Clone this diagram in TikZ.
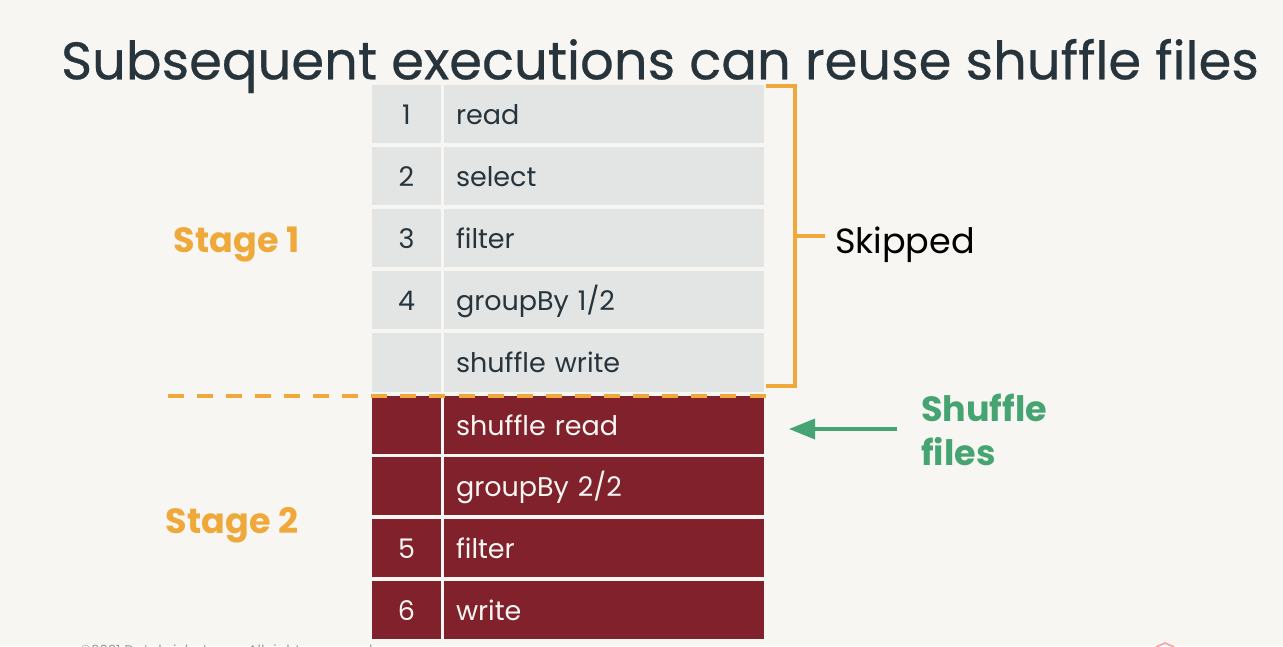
\documentclass[tikz,border=0pt]{standalone}
\usepackage{fontspec}
\setmainfont{Poppins}
\newfontfamily\titlefont[FakeBold=0.5]{Poppins}
\usetikzlibrary{arrows.meta}
\definecolor{bgc}{HTML}{F7F6F2}
\definecolor{cellgray}{HTML}{E3E4E4}
\definecolor{cellred}{HTML}{80212C}
\definecolor{ink}{HTML}{27343C}
\definecolor{amber}{HTML}{EFA93B}
\definecolor{teal}{HTML}{46A472}
\tikzset{
  x=1pt,y=-1pt,
  cell/.style={inner sep=0pt,outer sep=0pt,minimum height=#1,anchor=north west,text height=23pt,text depth=3pt,font=\fontsize{27}{27}\selectfont},
  graynum/.style={cell=58pt,minimum width=69pt,fill=cellgray,text=ink},
  graytxt/.style={cell=58pt,fill=cellgray,text=ink,align=left,text width=296pt,minimum width=320pt},
  rednum/.style={cell=58pt,minimum width=69pt,fill=cellred,text=bgc},
  redtxt/.style={cell=58pt,fill=cellred,text=bgc,align=left,text width=296pt,minimum width=320pt},
  stagelabel/.style={text=amber,font=\fontsize{35}{35}\selectfont\bfseries,inner sep=0pt},
  bracketline/.style={draw=amber,line width=3.2pt},
}
\begin{document}
\begin{tikzpicture}
\useasboundingbox (0,0) rectangle (1283,646);
\fill[bgc] (0,0) rectangle (1283,646);
\node[text=ink,font=\fontsize{52.8}{53}\selectfont\titlefont,inner sep=0pt] (title) at (660,66) {Subsequent executions can reuse shuffle files};
\foreach \n/\y/\h/\a/\b in {g1/85/58/1/read,g2/147/58/2/select,g3/209/58/3/filter,g4/271/58/4/{groupBy 1/2},g5/333/59/{}/{shuffle write}}{
  \node[graynum,minimum height=\h pt] (\n a) at (372,\y) {\a};
  \node[graytxt,minimum height=\h pt] (\n b) at (444,\y) {\b};
}
\foreach \n/\y/\a/\b in {r1/396/{}/{shuffle read},r2/457/{}/{groupBy 2/2},r3/519/5/filter,r4/581/6/write}{
  \node[rednum] (\n a) at (372,\y) {\a};
  \node[redtxt] (\n b) at (444,\y) {\b};
}
\node[stagelabel] (s1) at (236.5,245) {Stage 1};
\node[stagelabel] (s2) at (232,525) {Stage 2};
\node[text=black,font=\fontsize{35}{35}\selectfont,inner sep=0pt] (skipped) at (905,245) {Skipped};
\node[text=teal,font=\fontsize{35}{44}\selectfont\bfseries,inner sep=0pt,align=left,anchor=north west] (shuf) at (921,394) {Shuffle\\files};
\coordinate (bt) at (766,86);
\coordinate (bb) at (766,386);
\coordinate (bm) at (795,236);
\coordinate (be) at (825,236);
\draw[bracketline] (bt) -- (795,86) -- (795,386) -- (bb);
\draw[bracketline] (bm) -- (be);
\coordinate (dashL) at (167.5,396);
\coordinate (dashR) at (766,396);
\draw[draw=amber,line width=4.5pt,dash pattern=on 16pt off 13.1pt] (dashL) -- (dashR);
\coordinate (arrS) at (897,429);
\coordinate (arrE) at (789,429);
\draw[teal,line width=3.5pt,-{Triangle[length=26pt,width=20pt]}] (arrS) -- (arrE);
\begin{scope}
\clip (0,0) rectangle (1283,646);
\node[text=black!40,font=\fontsize{14}{14}\selectfont,inner sep=0pt,anchor=base west] (foot) at (80,655) {©2021 Databricks Inc. — All rights reserved};
\draw[draw=red!35!bgc,line width=1.6pt] (1156,647) -- (1165,643) -- (1174,647);
\end{scope}
\end{tikzpicture}
\end{document}
